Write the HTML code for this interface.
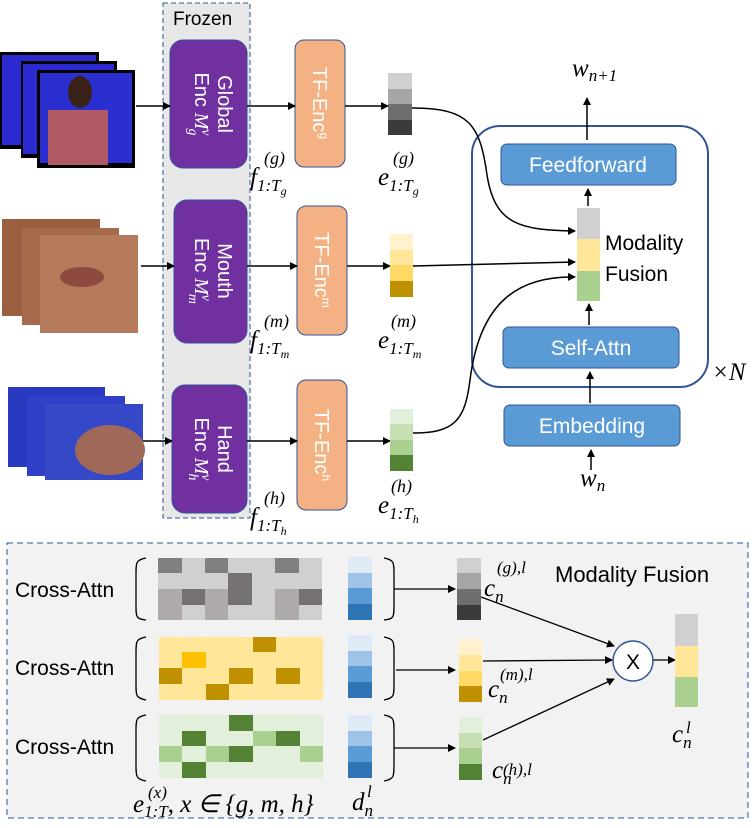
<!DOCTYPE html>
<html><head><meta charset="utf-8"><style>
body{margin:0;background:#fff}
text{font-family:"Liberation Sans",sans-serif}
.m,.m text,text.m{font-family:"Liberation Serif",serif;font-style:italic}
</style></head><body>
<svg width="753" height="823" viewBox="0 0 753 823" xmlns="http://www.w3.org/2000/svg">
<defs><marker id="a" markerWidth="8" markerHeight="8" refX="7" refY="4" orient="auto" markerUnits="userSpaceOnUse"><path d="M0,0 L8,4 L0,8z" fill="#000"/></marker></defs>
<!-- photos -->
<rect x="0" y="52" width="99" height="97" fill="#000"/><rect x="2" y="55" width="94" height="90" fill="#2a2ad0"/>
<rect x="21" y="61" width="96" height="97" fill="#000"/><rect x="23" y="64" width="91" height="90" fill="#2a2ad0"/>
<rect x="37" y="70" width="98" height="98" fill="#000"/><rect x="40" y="73" width="92" height="90" fill="#2b2fcf"/>
<rect x="48" y="110" width="60" height="55" fill="#b05a66"/><ellipse cx="80" cy="92" rx="12" ry="16" fill="#3a2218"/>
<rect x="2" y="219" width="98" height="97" fill="#9a6040"/><rect x="22" y="228" width="97" height="97" fill="#a86a4c"/>
<rect x="40" y="235" width="98" height="98" fill="#b57a5a"/><ellipse cx="82" cy="277" rx="22" ry="10" fill="#8e4a40"/>
<rect x="8" y="387" width="97" height="80" fill="#2a3ac0"/><rect x="27" y="396" width="98" height="80" fill="#3040c8"/>
<rect x="45" y="404" width="98" height="76" fill="#3548c8"/><ellipse cx="110" cy="450" rx="35" ry="25" fill="#a06858"/>
<!-- frozen -->
<rect x="163" y="3" width="87" height="515" fill="#e7e7e7" stroke="#2f5597" stroke-dasharray="5,3"/>
<text x="173" y="25" font-size="19">Frozen</text>
<g fill="#7030a0" stroke="#2f5597" stroke-width="1">
<rect x="170" y="40" width="77" height="128" rx="13"/><rect x="174" y="200" width="73" height="143" rx="13"/><rect x="172" y="385" width="75" height="128" rx="13"/></g>
<g fill="#f4b183" stroke="#2f5597"><rect x="295" y="40" width="50" height="127" rx="9"/><rect x="297" y="206" width="50" height="129" rx="9"/><rect x="297" y="380" width="50" height="130" rx="9"/></g>
<g fill="#fff" font-size="20">
<text transform="translate(218,104) rotate(90)" text-anchor="middle">Global</text>
<text transform="translate(195,104) rotate(90)" text-anchor="middle">Enc <tspan font-family="Liberation Serif" font-style="italic">M</tspan><tspan font-family="Liberation Serif" font-style="italic" font-size="14" dy="-7">v</tspan><tspan font-family="Liberation Serif" font-style="italic" font-size="14" dx="-7" dy="13">g</tspan></text>
<text transform="translate(218,271) rotate(90)" text-anchor="middle">Mouth</text>
<text transform="translate(195,271) rotate(90)" text-anchor="middle">Enc <tspan font-family="Liberation Serif" font-style="italic">M</tspan><tspan font-family="Liberation Serif" font-style="italic" font-size="14" dy="-7">v</tspan><tspan font-family="Liberation Serif" font-style="italic" font-size="14" dx="-7" dy="13">m</tspan></text>
<text transform="translate(218,449) rotate(90)" text-anchor="middle">Hand</text>
<text transform="translate(195,449) rotate(90)" text-anchor="middle">Enc <tspan font-family="Liberation Serif" font-style="italic">M</tspan><tspan font-family="Liberation Serif" font-style="italic" font-size="14" dy="-7">v</tspan><tspan font-family="Liberation Serif" font-style="italic" font-size="14" dx="-7" dy="13">h</tspan></text>
<text transform="translate(313,103) rotate(90)" text-anchor="middle">TF-Enc<tspan font-size="12" dy="-7">g</tspan></text>
<text transform="translate(315,270) rotate(90)" text-anchor="middle">TF-Enc<tspan font-size="12" dy="-7">m</tspan></text>
<text transform="translate(315,445) rotate(90)" text-anchor="middle">TF-Enc<tspan font-size="12" dy="-7">h</tspan></text>
</g>
<!-- arrows left -->
<g stroke="#000" stroke-width="1.5" marker-end="url(#a)">
<line x1="136" y1="106" x2="170" y2="106"/><line x1="141" y1="266" x2="174" y2="266"/><line x1="143" y1="441" x2="172" y2="441"/>
<line x1="247" y1="106" x2="295" y2="106"/><line x1="247" y1="266" x2="297" y2="266"/><line x1="247" y1="441" x2="297" y2="441"/>
<line x1="345" y1="106" x2="388" y2="106"/><line x1="347" y1="266" x2="390" y2="266"/><line x1="347" y1="441" x2="390" y2="441"/>
</g>
<!-- bars -->
<g><rect x="388" y="73" width="24" height="16" fill="#d0d0d0"/><rect x="388" y="89" width="24" height="15" fill="#a6a6a6"/><rect x="388" y="104" width="24" height="16" fill="#6e6e6e"/><rect x="388" y="120" width="24" height="15" fill="#3a3a3a"/>
<rect x="390" y="234" width="23" height="16" fill="#fff2cc"/><rect x="390" y="250" width="23" height="15" fill="#ffe699"/><rect x="390" y="265" width="23" height="16" fill="#ffd966"/><rect x="390" y="281" width="23" height="16" fill="#bf9000"/>
<rect x="390" y="409" width="23" height="15" fill="#e2efda"/><rect x="390" y="424" width="23" height="16" fill="#c6e0b4"/><rect x="390" y="440" width="23" height="15" fill="#a9d08e"/><rect x="390" y="455" width="23" height="16" fill="#548235"/></g>
<!-- math labels -->
<g class="m" font-size="25">
<text class="m" x="250" y="185">f<tspan font-size="17" dy="6">1:T</tspan><tspan font-size="12" dy="4">g</tspan></text><text x="264" y="164" font-size="18" font-style="normal">(<tspan font-style="italic">g</tspan>)</text>
<text class="m" x="250" y="348">f<tspan font-size="17" dy="6">1:T</tspan><tspan font-size="12" dy="4">m</tspan></text><text x="264" y="327" font-size="18" font-style="normal">(<tspan font-style="italic">m</tspan>)</text>
<text class="m" x="250" y="525">f<tspan font-size="17" dy="6">1:T</tspan><tspan font-size="12" dy="4">h</tspan></text><text x="264" y="504" font-size="18" font-style="normal">(<tspan font-style="italic">h</tspan>)</text>
<text class="m" x="378" y="185">e<tspan font-size="17" dy="6">1:T</tspan><tspan font-size="12" dy="4">g</tspan></text><text x="393" y="164" font-size="18" font-style="normal">(<tspan font-style="italic">g</tspan>)</text>
<text class="m" x="378" y="348">e<tspan font-size="17" dy="6">1:T</tspan><tspan font-size="12" dy="4">m</tspan></text><text x="391" y="327" font-size="18" font-style="normal">(<tspan font-style="italic">m</tspan>)</text>
<text class="m" x="378" y="513">e<tspan font-size="17" dy="6">1:T</tspan><tspan font-size="12" dy="4">h</tspan></text><text x="391" y="492" font-size="18" font-style="normal">(<tspan font-style="italic">h</tspan>)</text>
<text class="m" x="572" y="76">w<tspan font-size="17" dy="5">n+1</tspan></text>
<text class="m" x="580" y="486">w<tspan font-size="17" dy="5">n</tspan></text>
<text class="m" x="712" y="380" font-style="normal">×<tspan font-style="italic">N</tspan></text>
</g>
<!-- decoder -->
<rect x="472" y="126" width="236" height="261" rx="28" fill="none" stroke="#2f5597" stroke-width="2"/>
<g fill="#5b9bd5" stroke="#2f5597"><rect x="501" y="144" width="175" height="41" rx="6"/><rect x="503" y="327" width="176" height="41" rx="6"/><rect x="504" y="405" width="176" height="41" rx="6"/></g>
<g fill="#fff" font-size="21" text-anchor="middle"><text x="588" y="172">Feedforward</text><text x="591" y="355">Self-Attn</text><text x="592" y="433">Embedding</text></g>
<rect x="577" y="208" width="23" height="31" fill="#d0d0d0"/><rect x="577" y="239" width="23" height="32" fill="#ffe699"/><rect x="577" y="271" width="23" height="30" fill="#a9d08e"/>
<text x="605" y="250" font-size="21">Modality</text><text x="605" y="281" font-size="21">Fusion</text>
<g stroke="#000" stroke-width="1.5" fill="none" marker-end="url(#a)">
<line x1="587" y1="140" x2="587" y2="98"/><line x1="588" y1="206" x2="588" y2="189"/><line x1="589" y1="325" x2="589" y2="304"/><line x1="590" y1="403" x2="590" y2="372"/><line x1="591" y1="470" x2="591" y2="450"/>
<path d="M412,108 C470,108 480,125 487,175 C495,225 520,230 575,231"/>
<line x1="413" y1="266" x2="575" y2="262"/>
<path d="M413,433 C455,433 465,420 470,380 C480,300 520,276 575,277"/>
</g>
<!-- bottom -->
<rect x="7" y="543" width="741" height="275" fill="#f2f2f2" stroke="#2f5597" stroke-dasharray="6,4"/>
<g font-size="21"><text x="15" y="597">Cross-Attn</text><text x="15" y="675">Cross-Attn</text><text x="15" y="754">Cross-Attn</text></g>
<text x="555" y="582" font-size="22">Modality Fusion</text>
<g>
<rect x="158" y="558" width="164" height="62" fill="#d0d0d0"/>
<g fill="#808080"><rect x="158" y="558" width="24" height="15"/><rect x="205" y="558" width="23" height="15"/><rect x="275" y="558" width="24" height="15"/></g>
<g fill="#767171"><rect x="228" y="573" width="24" height="16"/><rect x="182" y="589" width="23" height="16"/><rect x="228" y="589" width="24" height="16"/><rect x="299" y="589" width="23" height="16"/></g>
<g fill="#aeaaaa"><rect x="158" y="589" width="24" height="31"/><rect x="205" y="589" width="23" height="31"/><rect x="275" y="589" width="24" height="31"/></g>
</g>
<g><rect x="159" y="637" width="164" height="63" fill="#ffe699"/>
<rect x="182" y="652" width="24" height="16" fill="#ffc000"/>
<g fill="#bf9000"><rect x="253" y="637" width="23" height="15"/><rect x="159" y="668" width="23" height="16"/><rect x="229" y="668" width="24" height="16"/><rect x="276" y="668" width="24" height="16"/><rect x="206" y="684" width="23" height="16"/></g></g>
<g><rect x="159" y="715" width="164" height="63" fill="#e2efda"/>
<g fill="#a9d08e"><rect x="253" y="731" width="23" height="15"/><rect x="159" y="746" width="23" height="16"/><rect x="206" y="746" width="23" height="16"/><rect x="300" y="746" width="23" height="16"/></g>
<g fill="#548235"><rect x="229" y="715" width="24" height="16"/><rect x="182" y="731" width="24" height="15"/><rect x="276" y="731" width="24" height="15"/><rect x="229" y="746" width="24" height="16"/><rect x="182" y="762" width="24" height="16"/></g></g>
<g id="bb"><rect x="348" y="557" width="24" height="16" fill="#deebf7"/><rect x="348" y="573" width="24" height="15" fill="#9dc3e6"/><rect x="348" y="588" width="24" height="16" fill="#5b9bd5"/><rect x="348" y="604" width="24" height="16" fill="#2e75b6"/></g>
<use href="#bb" y="78"/><use href="#bb" y="158"/>
<g fill="none" stroke="#000" stroke-width="1.3">
<path d="M146,558 C136,560 136,562 136,575 L136,605 C136,617 136,619 146,620"/>
<path d="M146,637 C136,639 136,641 136,654 L136,684 C136,696 136,698 146,700"/>
<path d="M146,715 C136,717 136,719 136,732 L136,764 C136,777 136,779 146,781"/>
<path d="M384,558 C394,560 394,562 394,575 L394,605 C394,617 394,619 384,620"/>
<path d="M384,637 C394,639 394,641 394,654 L394,684 C394,696 394,698 384,700"/>
<path d="M384,715 C394,717 394,719 394,732 L394,764 C394,777 394,779 384,781"/>
</g>
<g stroke="#000" stroke-width="1.3" marker-end="url(#a)">
<line x1="394" y1="589" x2="455" y2="589"/><line x1="396" y1="670" x2="455" y2="670"/><line x1="394" y1="748" x2="455" y2="748"/>
<line x1="481" y1="597" x2="614" y2="646"/><line x1="483" y1="661" x2="612" y2="660"/><line x1="483" y1="740" x2="614" y2="679"/>
<line x1="653" y1="660" x2="675" y2="660"/>
</g>
<rect x="457" y="558" width="24" height="15" fill="#d0d0d0"/><rect x="457" y="573" width="24" height="16" fill="#a6a6a6"/><rect x="457" y="589" width="24" height="16" fill="#6e6e6e"/><rect x="457" y="605" width="24" height="15" fill="#3a3a3a"/>
<rect x="459" y="639" width="23" height="16" fill="#fff2cc"/><rect x="459" y="655" width="23" height="16" fill="#ffe699"/><rect x="459" y="671" width="23" height="15" fill="#ffd966"/><rect x="459" y="686" width="23" height="16" fill="#bf9000"/>
<rect x="459" y="717" width="23" height="16" fill="#e2efda"/><rect x="459" y="733" width="23" height="15" fill="#c6e0b4"/><rect x="459" y="748" width="23" height="16" fill="#a9d08e"/><rect x="459" y="764" width="23" height="16" fill="#548235"/>
<circle cx="633" cy="661" r="20" fill="#fff" stroke="#2f5597" stroke-width="1.5"/>
<text x="633" y="669" font-size="21" text-anchor="middle">X</text>
<rect x="675" y="614" width="23" height="32" fill="#d0d0d0"/><rect x="675" y="646" width="23" height="31" fill="#ffe699"/><rect x="675" y="677" width="23" height="30" fill="#a9d08e"/>
<g class="m" font-size="25">
<text class="m" x="484" y="596">c<tspan font-size="17" dy="6">n</tspan></text><text class="m" x="497" y="573" font-size="17" font-style="normal">(<tspan font-style="italic">g</tspan>),<tspan font-style="italic">l</tspan></text>
<text class="m" x="488" y="697">c<tspan font-size="17" dy="6">n</tspan></text><text class="m" x="500" y="680" font-size="17" font-style="normal">(<tspan font-style="italic">m</tspan>),<tspan font-style="italic">l</tspan></text>
<text class="m" x="492" y="778">c<tspan font-size="17" dy="6">n</tspan></text><text class="m" x="503" y="775" font-size="17" font-style="normal">(<tspan font-style="italic">h</tspan>),<tspan font-style="italic">l</tspan></text>
<text class="m" x="672" y="742">c<tspan font-size="17" dy="6">n</tspan></text><text class="m" x="686" y="733" font-size="17">l</text>
<text class="m" x="133" y="812">e<tspan font-size="17" dy="5">1:T</tspan><tspan dy="-5" font-style="normal">, </tspan>x ∈ {g, m, h}</text><text class="m" x="148" y="798" font-size="17" font-style="normal">(<tspan font-style="italic">x</tspan>)</text>
<text class="m" x="352" y="810">d<tspan font-size="17" dy="6">n</tspan></text><text class="m" x="367" y="797" font-size="17">l</text>
</g>
</svg>
</body></html>
